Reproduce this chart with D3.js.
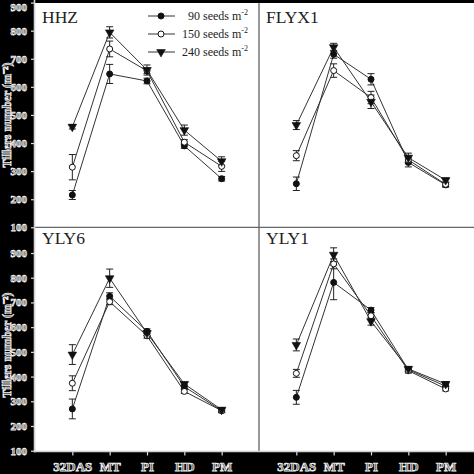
<!DOCTYPE html>
<html><head><meta charset="utf-8">
<script src="https://cdn.jsdelivr.net/npm/d3@7"></script>
<style>html,body{margin:0;padding:0;background:#fff;overflow:hidden}</style>
</head><body>
<svg id="c" width="474" height="474"></svg>
<script>
const categories = ["32DAS","MT","PI","HD","PM"];
const seriesLabels = ["90 seeds m", "150 seeds m", "240 seeds m"];
const panelNames = ["HHZ","FLYX1","YLY6","YLY1"];
const yTicksTop = [100,200,300,400,500,600,700,800,900];
const yTicksBottom = [100,200,300,400,500,600,700,800,900];
const yTitle = "Tillers number (m⁻²)";

// HHZ
const hhz90 = [215,646,621,390,273];   const hhz90Err = [16,34,10,9,8];
const hhz150 = [314,735,657,403,317];  const hhz150Err = [45,28,10,9,18];
const hhz240 = [458,794,660,446,335];  const hhz240Err = [8,20,18,18,16];
// FLYX1
const flyx90 = [255,716,627,331,251];  const flyx90Err = [24,14,20,16,8];
const flyx150 = [355,658,562,340,253]; const flyx150Err = [18,24,22,14,8];
const flyx240 = [464,741,547,348,268]; const flyx240Err = [16,14,24,16,8];
// YLY6
const yly690 = [269,725,583,359,262];  const yly690Err = [40,14,10,8,8];
const yly6150 = [373,703,565,340,262]; const yly6150Err = [30,12,10,8,8];
const yly6240 = [489,798,576,370,266]; const yly6240Err = [40,37,10,8,8];
// YLY1
const yly190 = [316,781,669,428,361];  const yly190Err = [28,70,10,10,10];
const yly1150 = [413,856,646,424,350]; const yly1150Err = [16,20,12,10,8];
const yly1240 = [528,893,624,431,370]; const yly1240Err = [24,28,16,10,10];

const panels = [
  {name:panelNames[0], col:0, row:0, s:[[hhz90,hhz90Err],[hhz150,hhz150Err],[hhz240,hhz240Err]]},
  {name:panelNames[1], col:1, row:0, s:[[flyx90,flyx90Err],[flyx150,flyx150Err],[flyx240,flyx240Err]]},
  {name:panelNames[2], col:0, row:1, s:[[yly690,yly690Err],[yly6150,yly6150Err],[yly6240,yly6240Err]]},
  {name:panelNames[3], col:1, row:1, s:[[yly190,yly190Err],[yly1150,yly1150Err],[yly1240,yly1240Err]]}
];

const svg = d3.select("#c");
const W = 474, H = 474;
const xL = 35, xM = 259, xR = 483, yT = 3, yMid = 227.3, yB = 451.5;

const xs = [
  d3.scalePoint().domain(categories).range([xL, xM]).padding(1),
  d3.scalePoint().domain(categories).range([xM, xR]).padding(1)
];
const ys = [
  d3.scaleLinear().domain([100,900]).range([yMid, 2.6]),
  d3.scaleLinear().domain([100,1000]).range([450.7, 228.3])
];

// backgrounds
svg.append("rect").attr("x",0).attr("y",0).attr("width",W).attr("height",H).attr("fill","#fff");
svg.append("rect").attr("x",0).attr("y",0).attr("width",xL).attr("height",H).attr("fill","#000");
svg.append("rect").attr("x",0).attr("y",yB).attr("width",W).attr("height",H-yB).attr("fill","#000");
svg.append("rect").attr("x",0).attr("y",0).attr("width",W).attr("height",yT).attr("fill","#000");

const font = "'Liberation Serif','Times New Roman',serif";
function outlined(sel){
  return sel.attr("font-family",font).attr("font-weight","bold")
    .attr("fill","#5a5a5a").attr("stroke","#eeeeee").attr("stroke-width",0.75);
}

// dividers
svg.append("line").attr("x1",xM).attr("x2",xM).attr("y1",yT).attr("y2",yB).attr("stroke","#555").attr("stroke-width",1.2);
svg.append("line").attr("x1",xL).attr("x2",W).attr("y1",yMid).attr("y2",yMid).attr("stroke","#666").attr("stroke-width",1.2);

// left y axes
[0,1].forEach(r=>{
  const ticks = r===0 ? yTicksTop : yTicksBottom;
  const ax = svg.append("g").attr("transform",`translate(${xL},0)`)
    .call(d3.axisLeft(ys[r]).tickValues(ticks).tickSize(4).tickPadding(5).tickFormat(d3.format("d")));
  ax.select(".domain").remove();
  ax.selectAll(".tick line").attr("stroke","#ddd").attr("stroke-width",1.2);
  outlined(ax.selectAll(".tick text")).attr("font-size",11).attr("x",-8);
  if (r===0) ax.selectAll(".tick text").filter(d=>d===900).attr("dy","0.32em").attr("y",4);
});
svg.append("line").attr("x1",xL-0.5).attr("x2",xL-0.5).attr("y1",0).attr("y2",yB+1).attr("stroke","#d0d0d0").attr("stroke-width",1.6);

// x axes
[0,1].forEach(c=>{
  const ax = svg.append("g").attr("transform",`translate(0,${yB})`)
    .call(d3.axisBottom(xs[c]).tickSize(4).tickPadding(6));
  ax.select(".domain").remove();
  ax.selectAll(".tick line").attr("stroke","#ddd").attr("stroke-width",1.2);
  outlined(ax.selectAll(".tick text")).attr("font-size",13);
});
svg.append("line").attr("x1",xL).attr("x2",W).attr("y1",yB).attr("y2",yB).attr("stroke","#d0d0d0").attr("stroke-width",1.6);

// y titles
[[0,115],[1,345]].forEach(([r,cy])=>{
  outlined(svg.append("text")).attr("font-size",12)
    .attr("text-anchor","middle")
    .attr("transform",`translate(11,${cy}) rotate(-90)`).text(yTitle);
});

const sym = [
  {type:"circle", fill:"#111"},
  {type:"circle", fill:"#fff"},
  {type:"tri", fill:"#111"}
];
function drawMarker(g, x, y, i){
  if (sym[i].type==="circle"){
    g.append("circle").attr("cx",x).attr("cy",y).attr("r",3)
      .attr("fill",sym[i].fill).attr("stroke","#111").attr("stroke-width",1);
  } else {
    g.append("path").attr("d",d3.symbol(d3.symbolTriangle,32)())
      .attr("transform",`translate(${x},${y}) rotate(180)`)
      .attr("fill","#111").attr("stroke","#111").attr("stroke-width",0.6);
  }
}

panels.forEach(p=>{
  const x = xs[p.col], y = ys[p.row];
  const g = svg.append("g");
  const line = d3.line().x((d,i)=>x(categories[i])).y(d=>y(d));
  p.s.forEach(([vals,errs])=>{
    g.append("path").attr("d",line(vals)).attr("fill","none").attr("stroke","#333").attr("stroke-width",1);
  });
  p.s.forEach(([vals,errs])=>{
    vals.forEach((v,i)=>{
      const cx = x(categories[i]);
      const y1 = y(v+errs[i]), y2 = y(v-errs[i]);
      g.append("line").attr("x1",cx).attr("x2",cx).attr("y1",y1).attr("y2",y2).attr("stroke","#222").attr("stroke-width",1);
      [y1,y2].forEach(yy=>g.append("line").attr("x1",cx-3.5).attr("x2",cx+3.5).attr("y1",yy).attr("y2",yy).attr("stroke","#222").attr("stroke-width",1));
    });
  });
  p.s.forEach(([vals,errs],si)=>{
    vals.forEach((v,i)=>drawMarker(g, x(categories[i]), y(v), si));
  });
  const tx = (p.col===0 ? xL : xM) + 7;
  const ty = (p.row===0 ? 23 : 244);
  g.append("text").attr("x",tx).attr("y",ty).attr("font-family",font).attr("font-size",17.5)
    .attr("fill","#222").text(p.name);
});

// legend
const lg = svg.append("g");
seriesLabels.forEach((lab,i)=>{
  const yy = 16 + i*18;
  lg.append("line").attr("x1",148).attr("x2",175).attr("y1",yy).attr("y2",yy).attr("stroke","#333").attr("stroke-width",1);
  drawMarker(lg, 161, yy, i);
  const t = lg.append("text").attr("x",248).attr("y",yy+4).attr("text-anchor","end")
    .attr("font-family",font).attr("font-size",12).attr("fill","#222");
  t.append("tspan").text(lab);
  t.append("tspan").attr("font-size",8).attr("dy",-5).text("-2");
});
</script>
</body></html>
